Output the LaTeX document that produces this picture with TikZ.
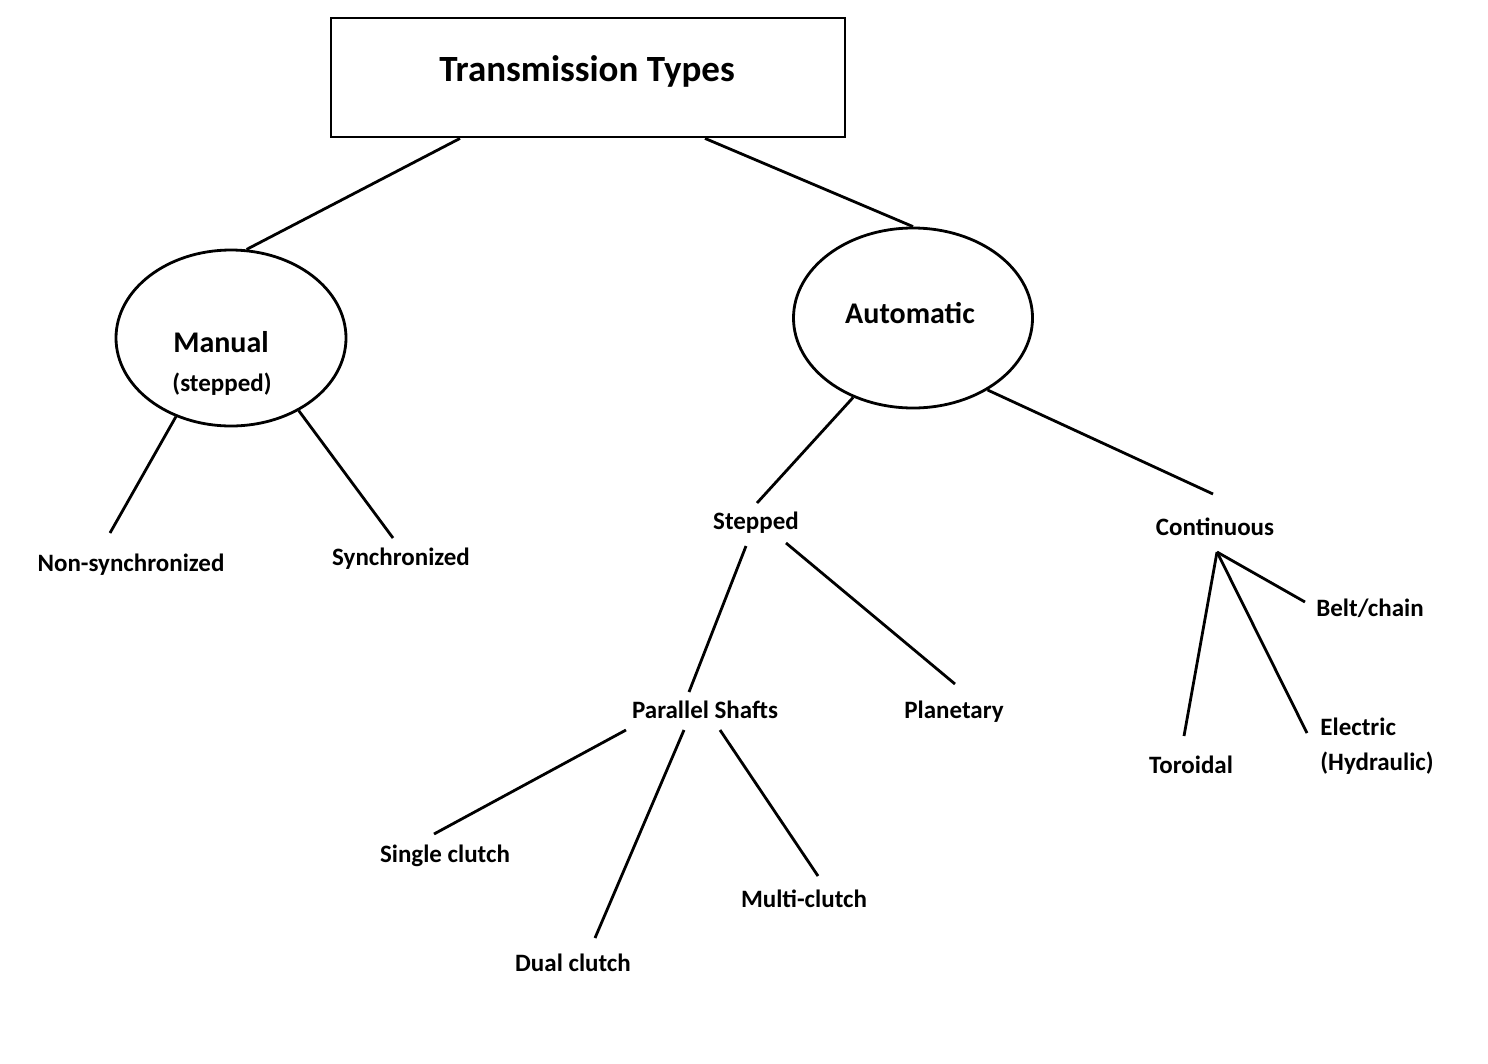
\documentclass[tikz,border=0pt]{standalone}
\usepackage{fontspec}
\setmainfont{Carlito}
\usetikzlibrary{shapes.geometric,calc}
\begin{document}
\begin{tikzpicture}[x=1pt,y=-1pt,
  conn/.style={line width=2.8pt},
  lbl/.style={font=\fontsize{25}{35}\selectfont\bfseries, inner sep=0pt},
  big/.style={font=\fontsize{30}{36}\selectfont\bfseries, inner sep=0pt},
  oval/.style={ellipse, draw, line width=2.8pt, inner sep=0pt}]
\useasboundingbox[fill=white] (0,0) rectangle (1488,1063);

\node[draw, line width=2.8pt, minimum width=514pt, minimum height=119pt, inner sep=0pt] (title) at (588,77.5) {};
\node[font=\fontsize{37}{40}\selectfont\bfseries, inner sep=0pt] (titlet) at (587,71) {Transmission Types};

\node[oval, minimum width=230pt, minimum height=176pt] (man) at (231,338) {};
\node[big] (mant) at (221,342) {Manual};
\node[lbl] (mans) at (222,384) {(stepped)};

\node[oval, minimum width=239pt, minimum height=180pt] (auto) at (913,318) {};
\node[big] (autot) at (910,313) {Automatic};

\node[lbl] (nons) at (131,565) {Non-synchronized};
\node[lbl] (sync) at (401,559) {Synchronized};
\node[lbl] (step) at (756,523) {Stepped};
\node[lbl] (cont) at (1215,527) {Continuous};
\node[lbl] (par) at (705,710) {Parallel Shafts};
\node[lbl] (plan) at (954,712) {Planetary};
\node[lbl] (single) at (445,856) {Single clutch};
\node[lbl] (dual) at (573,963) {Dual clutch};
\node[lbl] (multi) at (804,899) {Multi-clutch};
\node[lbl] (toro) at (1191,765) {Toroidal};
\node[lbl] (belt) at (1370,608) {Belt/chain};
\node[lbl, align=left] (elec) at (1377,746) {Electric\\(Hydraulic)};

\draw[conn] ($(title.south)+(-128,0)$) -- (man.80);
\draw[conn] ($(title.south)+(117,0)$) -- (auto.90);
\draw[conn] (man.235) -- ($(nons)+(-21,-32)$);
\draw[conn] (man.-47) -- ($(sync)+(-8,-21)$);
\draw[conn] (auto.-127) -- ($(step)+(1,-20)$);
\draw[conn] (auto.-44) -- ($(cont)+(-2,-33)$);
\draw[conn] ($(step)+(-10,23)$) -- ($(par)+(-16,-18)$);
\draw[conn] ($(step)+(30,20)$) -- ($(plan)+(1,-28)$);
\draw[conn] ($(par)+(-79,20)$) -- ($(single)+(-11,-22)$);
\draw[conn] ($(par)+(-21,20)$) -- ($(dual)+(22,-25)$);
\draw[conn] ($(par)+(15,20)$) -- ($(multi)+(14,-23)$);
\coordinate (hub) at ($(cont)+(2,25)$);
\draw[conn] (hub) -- ($(toro)+(-7,-29)$);
\draw[conn] (hub) -- ($(belt)+(-65,-6)$);
\draw[conn] (hub) -- ($(elec)+(-70,-13)$);
\end{tikzpicture}
\end{document}
